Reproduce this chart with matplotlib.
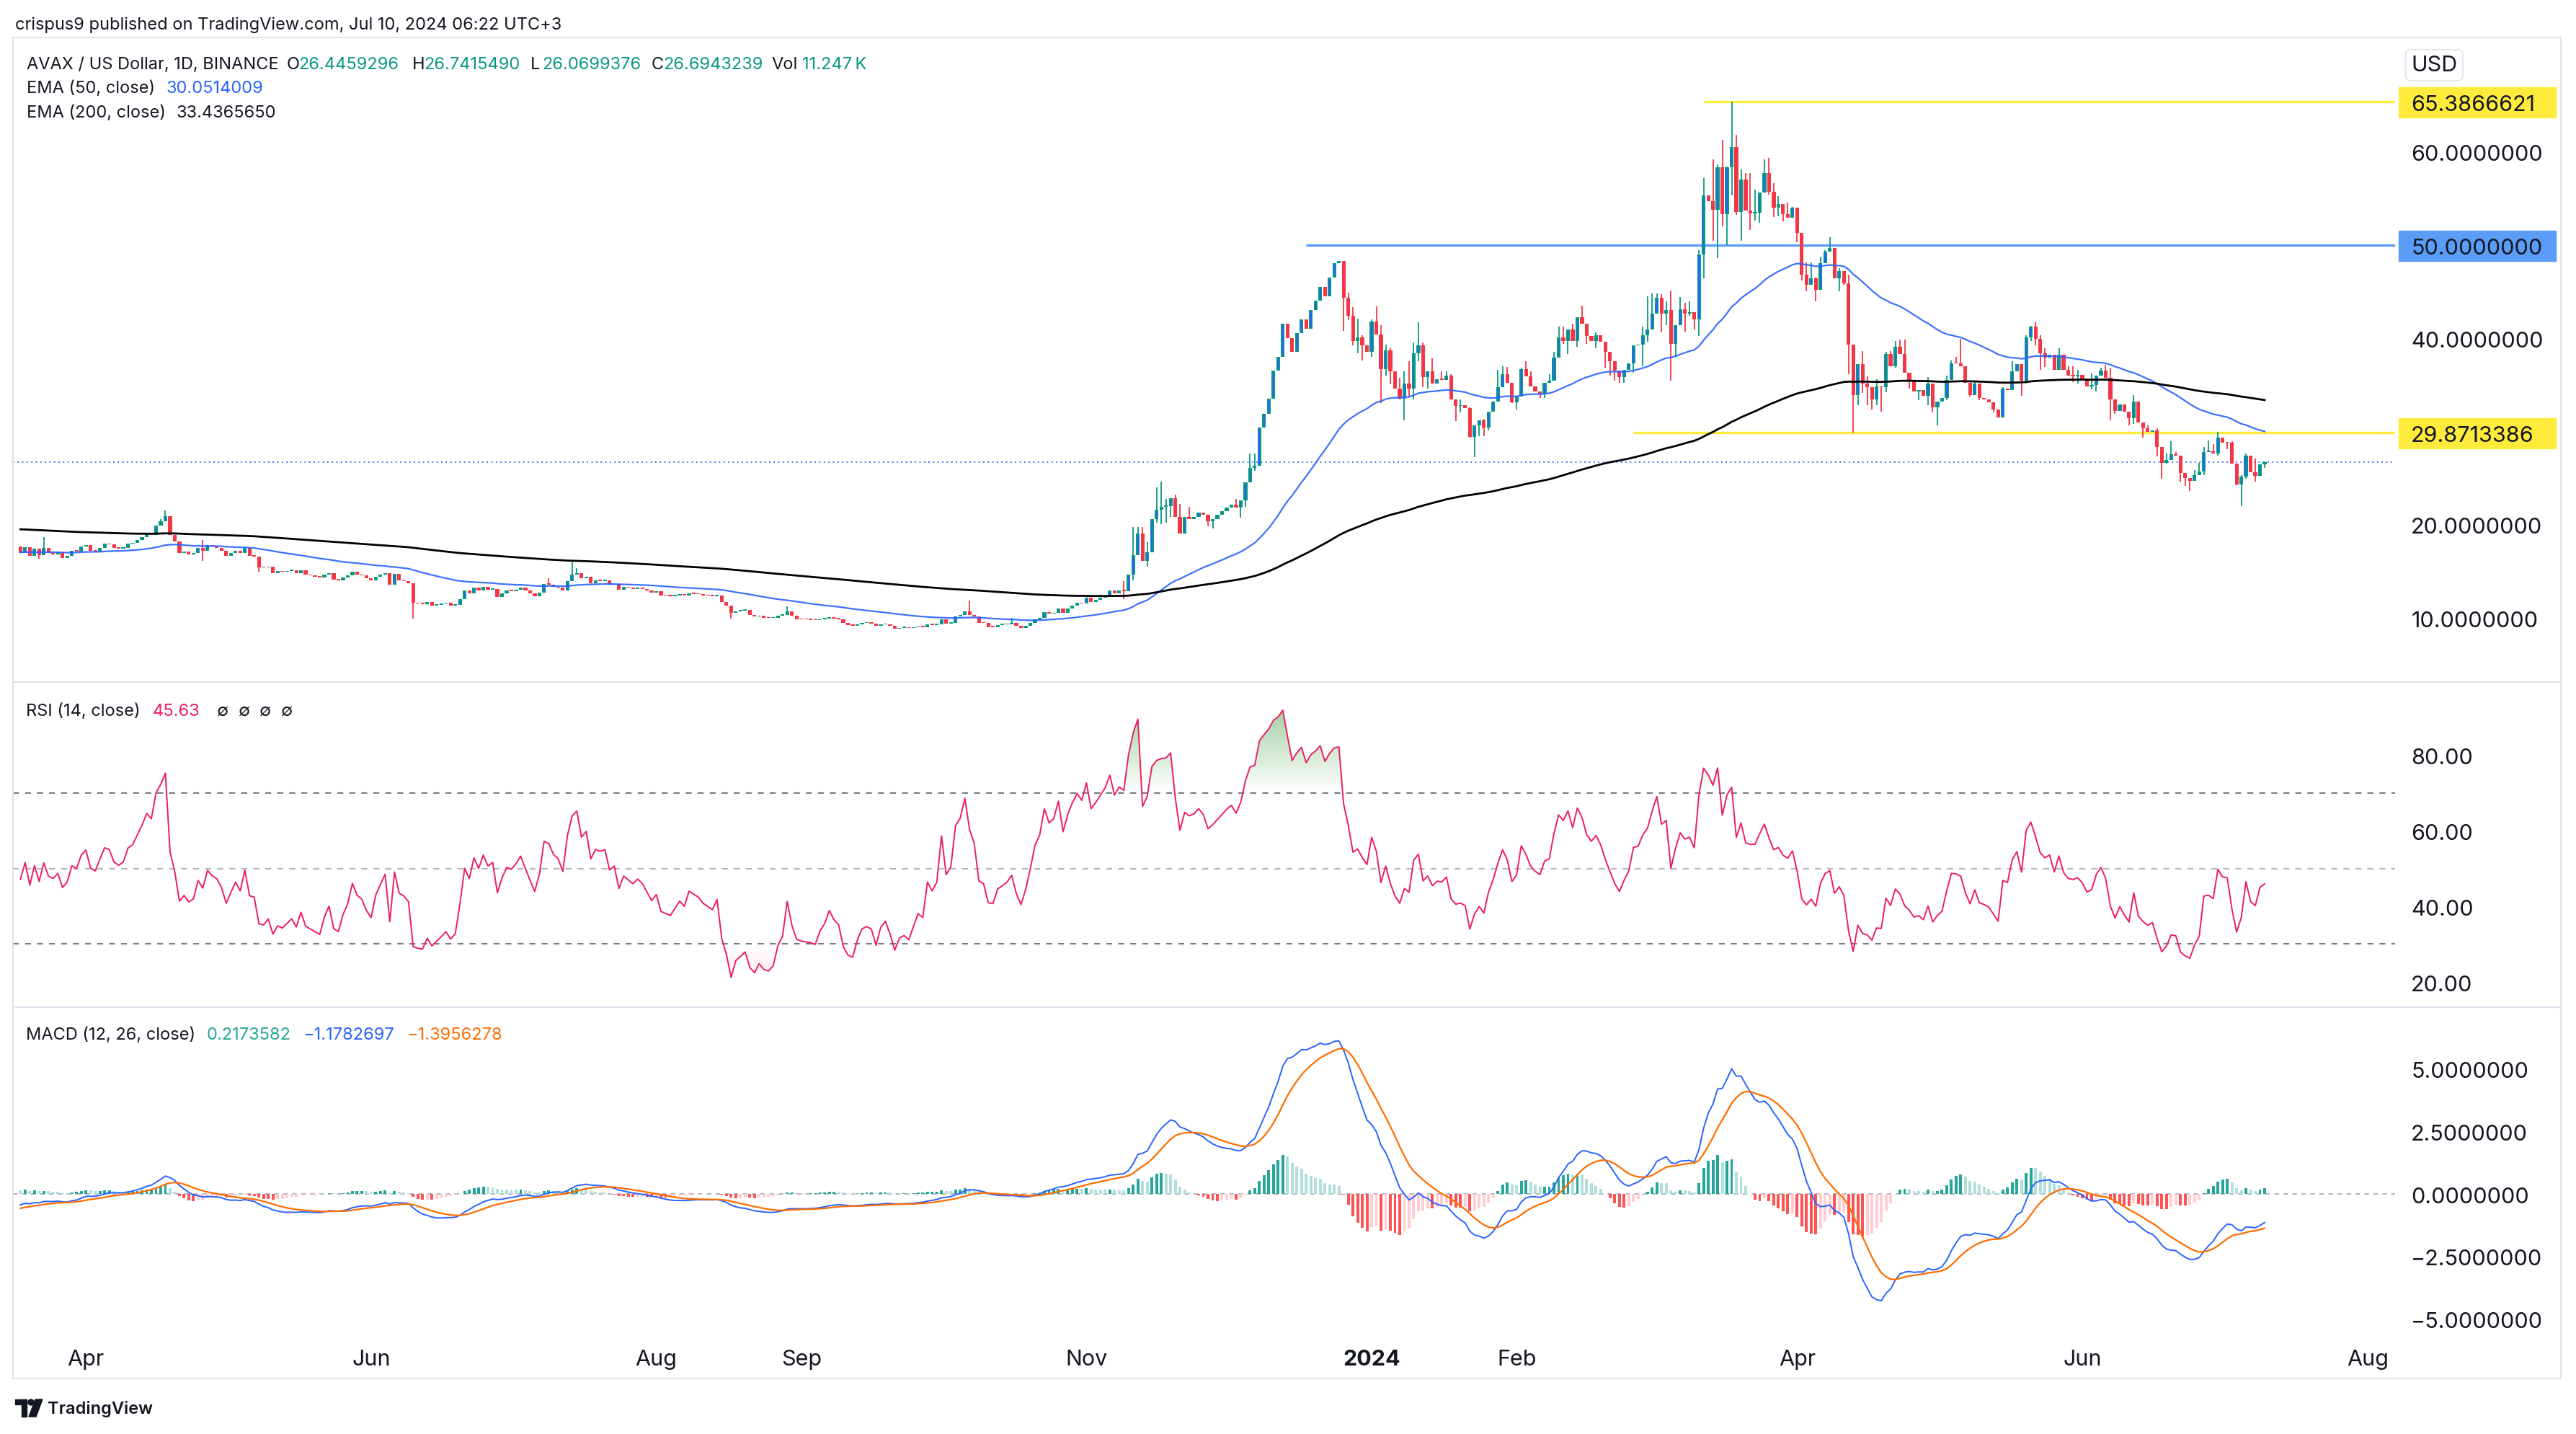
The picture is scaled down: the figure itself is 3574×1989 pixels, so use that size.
#!/usr/bin/env python3
"""AVAX / US Dollar daily candles with EMA 50/200, RSI and MACD panes."""

import numpy as np
import pandas as pd
import matplotlib
matplotlib.use("Agg")
import matplotlib.pyplot as plt
import matplotlib.dates as mdates
import matplotlib.transforms as mtrans
from matplotlib.path import Path
from matplotlib.patches import Rectangle, Ellipse, Polygon
from matplotlib.colors import to_rgb

W, H = 3574, 1990

# daily closes, 18 Mar 2023 -> 10 Jul 2024
close_mar_jun23 = [
    16.9, 17.55, 16.6, 17.4, 16.7, 17.5, 16.9, 16.8, 17.0, 16.4,
    16.6, 17.2, 17.1, 17.6, 17.8, 17.2, 17.1, 17.5, 17.9, 17.85,
    17.5, 17.4, 17.5, 17.9, 18.0, 18.3, 18.6, 19.0, 18.9, 19.9,
    20.3, 20.9, 18.9, 18.2, 16.9, 17.1, 16.8, 16.9, 17.5, 17.2,
    17.8, 17.6, 17.5, 17.2, 16.6, 16.9, 17.2, 16.9, 17.5, 16.6,
    16.55, 15.4, 15.35, 15.5, 14.8, 15.0, 14.9, 15.0, 15.1, 14.8,
    15.1, 14.6, 14.5, 14.4, 14.3, 14.6, 14.8, 14.1, 14.0, 14.3,
    14.5, 14.9, 14.6, 14.5, 14.2, 14.0, 14.4]
close_jun_aug23 = [
    14.6, 14.8, 13.5, 14.7, 14.0, 13.9, 13.7, 11.6, 11.5, 11.45,
    11.7, 11.3, 11.4, 11.5, 11.6, 11.3, 11.4, 12.0, 12.9, 12.6,
    13.2, 12.9, 13.3, 13.0, 13.1, 12.2, 12.6, 12.9, 12.85, 13.0,
    13.2, 12.9, 12.6, 12.3, 12.7, 13.6, 13.55, 13.3, 13.2, 12.9,
    13.9, 14.6, 14.8, 14.2, 14.4, 13.7, 14.0, 13.95, 14.0, 13.5,
    13.6, 13.0, 13.3, 13.2, 13.1, 13.2, 13.1, 12.9, 12.7, 12.8,
    12.4, 12.35, 12.3, 12.4, 12.5, 12.4, 12.6, 12.55, 12.5, 12.4,
    12.35]
close_aug_oct23 = [
    12.3, 12.4, 11.7, 11.3, 10.5, 10.7, 10.75, 10.8, 10.3, 10.1,
    10.2, 10.0, 9.95, 10.0, 10.2, 10.3, 10.7, 10.2, 9.85, 9.8,
    9.78, 9.76, 9.72, 9.85, 9.92, 10.05, 9.9, 9.82, 9.4, 9.2,
    9.15, 9.3, 9.4, 9.42, 9.38, 9.1, 9.25, 9.3, 9.1, 8.8,
    8.9, 8.92, 8.85, 8.95, 9.05, 9.0, 9.3, 9.2, 9.28, 9.8,
    9.35, 9.45, 10.1, 10.25, 10.7, 10.3, 10.1, 9.45, 9.4, 9.0,
    8.98, 9.2, 9.25, 9.3, 9.4, 9.1, 8.9, 9.1, 9.4, 9.8]
close_oct_dec23 = [
    10.0, 10.6, 10.4, 10.5, 10.95, 10.5, 10.95, 11.3, 11.6, 11.5,
    12.1, 11.7, 11.9, 12.15, 12.4, 12.9, 12.6, 12.9, 12.85, 14.6,
    16.7, 19.0, 16.1, 17.0, 20.6, 21.6, 21.9, 22.0, 22.8, 20.8,
    19.0, 20.8, 20.6, 20.8, 21.3, 21.0, 20.3, 20.6, 21.0, 21.4,
    21.8, 22.1, 21.8, 22.6, 24.5, 26.1, 26.3, 30.4, 31.9, 33.5]
close_dec23 = [36.5, 38.0, 41.5, 40.0, 38.5, 40.5, 42.0, 41.0, 43.0, 44.0,
               45.5, 44.5, 46.5, 48.0, 48.3]
close_dec_mar24 = [
    44.3, 42.4, 39.7, 40.1, 39.2, 38.5, 41.8, 40.4, 36.7, 38.7,
    36.4, 34.6, 33.5, 35.1, 34.6, 38.4, 39.2, 35.8, 36.4, 35.1,
    35.6, 35.5, 36.0, 33.4, 32.7, 32.8, 32.5, 29.4, 30.6, 31.2,
    30.4, 32.1, 33.2, 34.7, 36.1, 35.2, 33.1, 33.7, 36.7, 35.9,
    34.8, 34.3, 34.0, 35.2, 35.4, 37.9, 40.1, 39.7, 40.9, 39.7,
    42.2, 41.5, 40.2, 39.7, 40.3, 39.6, 38.5, 37.5, 36.5, 35.8,
    36.6, 37.3, 39.2, 39.3, 40.3, 40.9, 42.6, 44.3, 42.6, 43.0,
    39.4, 41.4, 43.1, 42.6]
close_mar_may24 = [
    42.8, 42.0, 49.0, 55.3, 54.7, 53.8, 58.3, 53.3, 58.3, 60.5,
    53.5, 57.0, 53.7, 53.4, 53.45, 55.6, 57.7, 55.7, 54.0, 54.4,
    53.3, 52.9, 54.0, 51.3, 46.8, 45.7, 46.4, 45.2, 48.0, 49.3,
    49.7, 46.4, 47.2, 45.9, 39.3, 33.9, 37.2, 35.1, 34.7, 33.4,
    34.8, 34.7, 38.3, 37.0, 39.1, 38.3, 36.3, 35.5, 34.3, 34.45,
    33.8, 35.1, 32.6, 33.2, 33.6, 35.5, 37.3, 37.25, 37.0, 35.2,
    33.9, 35.1, 33.6, 33.4, 33.1, 32.3, 31.5, 34.6, 34.4, 36.4,
    37.2]
close_may_jul24 = [
    35.4, 40.05, 41.2, 39.9, 38.4, 37.9, 38.2, 36.6, 38.2, 36.6,
    36.0, 35.9, 36.05, 35.6, 34.8, 34.95, 36.0, 36.5, 35.7, 33.4,
    32.2, 32.9, 32.1, 31.4, 33.2, 30.9, 30.3, 29.9, 30.05, 28.3,
    26.6, 26.9, 27.5, 27.4, 25.5, 25.0, 24.7, 25.3, 25.7, 27.8,
    27.85, 27.6, 29.3, 28.8, 28.75, 26.5, 24.3, 25.1, 27.4, 25.6,
    25.2, 26.4459296, 26.6943239]

first_open = 17.6
last_open = 26.4459296

# wicks that stick out (candle index -> price)
wick_high = {
    5: 18.6, 30: 20.6, 31: 21.5, 39: 18.3,
    113: 14.2, 118: 15.9, 119: 15.3,
    164: 11.2, 203: 11.8, 212: 9.95,
    236: 13.9, 238: 19.7, 239: 19.7, 240: 19.7, 241: 18.1, 243: 24.0, 244: 24.6,
    245: 22.7, 247: 23.2, 248: 22.2, 250: 21.9, 260: 22.7, 263: 27.6, 264: 27.6,
    283: 48.3, 284: 44.9, 285: 43.3, 286: 42.1, 287: 40.3, 289: 42.0, 290: 43.4,
    291: 41.4, 292: 39.3, 293: 39.0, 294: 35.7, 295: 35.7, 296: 36.4, 297: 37.5,
    298: 39.5, 299: 41.7, 300: 39.5, 302: 37.8, 304: 36.4, 305: 36.4, 306: 36.1,
    308: 33.4, 310: 32.6, 313: 31.3, 316: 36.6, 317: 37.0, 318: 36.9, 321: 36.8,
    322: 37.5, 323: 36.4, 327: 36.1, 328: 38.5, 329: 41.2, 330: 41.2, 332: 41.5,
    334: 43.5, 337: 40.6, 347: 41.2, 348: 44.5, 349: 44.8, 350: 44.8, 351: 44.7,
    352: 43.9, 353: 45.1, 355: 44.4, 356: 43.8,
    357: 43.9, 359: 49.4, 360: 57.2, 362: 59.2, 363: 58.6, 364: 61.3, 365: 58.4,
    366: 65.3866621, 367: 61.8, 368: 58.1, 369: 57.7, 370: 57.7, 371: 55.9,
    373: 59.2, 374: 59.3, 375: 56.6, 376: 55.2, 378: 54.5, 379: 54.1, 382: 48.1,
    383: 48.1, 384: 46.5, 385: 48.7, 386: 49.4, 387: 50.8, 389: 47.5, 390: 46.8,
    391: 46.8, 394: 38.6, 395: 35.9, 397: 35.6, 399: 38.5, 400: 38.6, 401: 39.7,
    402: 39.8, 403: 39.8, 408: 35.8, 412: 36.0, 413: 37.6, 414: 38.0, 415: 39.9,
    418: 35.4, 424: 34.7, 426: 37.5,
    429: 40.3, 430: 41.3, 431: 41.7, 432: 40.3, 433: 38.9, 436: 38.9, 438: 37.0,
    439: 37.0, 440: 36.6, 443: 36.2, 445: 36.8, 446: 37.1, 447: 36.8, 452: 33.9,
    455: 30.6, 457: 30.3, 459: 27.6, 460: 28.9, 461: 27.8, 465: 25.8, 466: 26.6,
    467: 28.3, 468: 29.0, 469: 28.6, 470: 29.95, 473: 28.9, 475: 25.3, 476: 27.6,
    477: 27.4, 478: 27.1, 480: 26.741549,
}
wick_low = {
    4: 16.3, 39: 16.1, 51: 14.9,
    84: 9.9, 152: 9.9,
    236: 12.0, 238: 14.0, 240: 16.1, 241: 15.5, 243: 20.2, 244: 20.0, 245: 20.2,
    246: 20.8, 254: 19.8, 255: 19.6, 261: 20.7, 262: 21.9, 264: 25.75,
    283: 40.8, 284: 41.9, 285: 39.2, 286: 38.4, 287: 37.6, 289: 38.0, 291: 33.0,
    292: 36.0, 293: 35.0, 295: 33.4, 296: 31.2, 297: 33.7, 298: 33.4, 299: 37.5,
    300: 34.7, 301: 34.6, 306: 33.4, 307: 31.1, 308: 32.0, 310: 29.3, 311: 27.2,
    312: 29.5, 313: 29.5, 314: 30.1, 319: 33.0, 320: 32.3, 325: 33.6, 326: 33.6,
    330: 39.4, 331: 38.3, 333: 39.1, 335: 39.4, 337: 38.9, 339: 36.8, 340: 36.0,
    341: 35.4, 342: 35.2, 343: 35.2, 345: 36.3, 347: 37.0, 348: 39.6, 351: 40.6,
    352: 41.4, 353: 35.4, 354: 38.0, 356: 40.7,
    357: 42.4, 358: 40.9, 359: 40.2, 360: 46.4, 362: 50.4, 363: 48.6, 364: 52.0,
    365: 50.0, 366: 55.3, 367: 53.2, 368: 50.4, 370: 51.6, 371: 52.6, 372: 52.4,
    374: 55.4, 375: 53.0, 376: 53.1, 377: 52.5, 380: 50.3, 381: 46.2, 382: 45.0,
    384: 43.9, 389: 45.0, 390: 45.7, 391: 36.1, 392: 29.8713386, 393: 32.8,
    394: 34.1, 395: 32.8, 396: 32.3, 397: 32.8, 398: 32.1, 399: 34.2, 401: 36.8,
    404: 34.6, 406: 33.3, 408: 32.8, 409: 32.0, 410: 30.6, 412: 33.3, 417: 33.7,
    419: 33.3, 422: 32.0, 423: 31.5,
    428: 33.8, 429: 35.1, 430: 39.7, 431: 39.2, 432: 36.6, 433: 36.9, 439: 35.3,
    440: 35.1, 443: 34.5, 444: 34.3, 447: 31.2, 448: 31.9, 451: 30.6, 452: 30.8,
    454: 29.3, 457: 27.3, 458: 24.9, 459: 26.5, 462: 24.5, 463: 24.1, 464: 23.6,
    467: 25.3, 470: 27.4, 472: 28.1, 474: 24.2, 475: 22.0, 476: 24.9, 478: 24.6,
    480: 26.0699376,
}

# indicator state carried in from before the first candle
ema50_start, ema200_start = 17.0, 19.5
ema12_start, ema26_start, signal_start = 17.25, 17.7, -0.62
rsi_up_start, rsi_dn_start = 0.28, 0.26

# drawn levels
level_price = [65.3866621, 50.0, 29.8713386]
level_from = ["2024-03-12", "2023-12-18", "2024-02-26"]
level_color = ["#ffeb3b", "#5b9cf6", "#ffeb3b"]

price_ticks = [60, 40, 20, 10]
rsi_ticks = [80, 60, 40, 20]
macd_ticks = [5.0, 2.5, 0.0, -2.5, -5.0]
month_ticks = ["2023-04-01", "2023-06-01", "2023-08-01", "2023-09-01", "2023-11-01",
               "2024-01-01", "2024-02-01", "2024-04-01", "2024-06-01", "2024-08-01"]
month_labels = ["Apr", "Jun", "Aug", "Sep", "Nov", "2024", "Feb", "Apr", "Jun", "Aug"]


def ema(vals, n, start):
    a = 2.0 / (n + 1)
    out, e = [], start
    for v in vals:
        e = e + a * (v - e)
        out.append(e)
    return np.array(out)


def rsi_wilder(vals, prev, n, up, dn):
    out = []
    for v in vals:
        ch = v - prev
        up = (up * (n - 1) + max(ch, 0)) / n
        dn = (dn * (n - 1) + max(-ch, 0)) / n
        out.append(100 - 100 / (1 + up / dn))
        prev = v
    return np.array(out)


def grad_fill(ax, x, y, base, peak, color, amax, above):
    yy = np.maximum(y, base) if above else np.minimum(y, base)
    verts = np.column_stack([np.r_[x, x[::-1]], np.r_[yy, np.full(len(x), base)]])
    rgba = np.zeros((256, 1, 4))
    rgba[..., :3] = to_rgb(color)
    ramp = np.linspace(0, 1, 256)
    if above:
        rgba[:, 0, 3] = amax * ramp
        ext = [x[0], x[-1], base, peak]
    else:
        rgba[:, 0, 3] = amax * ramp[::-1]
        ext = [x[0], x[-1], peak, base]
    im = ax.imshow(rgba, extent=ext, origin="lower", aspect="auto", zorder=1,
                   interpolation="bilinear")
    im.set_clip_path(Path(verts), transform=ax.transData)


closes = np.array(close_mar_jun23 + close_jun_aug23 + close_aug_oct23 + close_oct_dec23
                  + close_dec23 + close_dec_mar24 + close_mar_may24 + close_may_jul24)
dates = pd.date_range(end="2024-07-10", periods=len(closes), freq="D")
x = mdates.date2num(dates)
opens = np.r_[first_open, closes[:-1]]
opens[-1] = last_open
highs = np.maximum(opens, closes)
lows = np.minimum(opens, closes)
for i, v in wick_high.items():
    highs[i] = max(highs[i], v)
for i, v in wick_low.items():
    lows[i] = min(lows[i], v)

ema50 = ema(closes, 50, ema50_start)
ema200 = ema(closes, 200, ema200_start)
rsi = rsi_wilder(closes, first_open, 14, rsi_up_start, rsi_dn_start)
macd = ema(closes, 12, ema12_start) - ema(closes, 26, ema26_start)
signal = ema(macd, 9, signal_start)
hist = macd - signal

plt.rcParams["font.family"] = ["Inter", "DejaVu Sans"]
INK = "#131722"
GREEN, RED = "#089981", "#f23645"
LEG_FS, AX_FS = 17, 22
DROP = 4  # text sits this many pixels lower than its bbox centre

fig = plt.figure(figsize=(W / 100, H / 100), dpi=100)
fig.patch.set_facecolor("white")

left, width = 18 / W, 3305 / W
ax_p = fig.add_axes([left, 1 - 946 / H, width, 891 / H])
ax_r = fig.add_axes([left, 1 - 1397 / H, width, 447 / H])
ax_m = fig.add_axes([left, 1 - 1851 / H, width, 451 / H])

jan1 = mdates.date2num(pd.Timestamp("2024-01-01"))
x0, x1 = jan1 - 290.6, jan1 + 218.9

# ---- price pane
up = closes >= opens
cols = np.where(up, GREEN, RED)
body_lo = np.minimum(opens, closes)
body_h = np.maximum(np.abs(closes - opens), 0.12)
ax_p.vlines(x, lows, highs, colors=cols, lw=1.3, zorder=3)
ax_p.bar(x, body_h, bottom=body_lo, width=0.8, color=cols, linewidth=0, zorder=4)
m = up & (body_h > 0.45)
ax_p.bar(x[m], body_h[m] - 0.3, bottom=body_lo[m] + 0.15, width=0.27,
         color="#2962ff", linewidth=0, zorder=5)

for p, d, c in zip(level_price, level_from, level_color):
    ax_p.hlines(p, mdates.date2num(pd.Timestamp(d)), x1, color=c, lw=2.4, zorder=2)
ax_p.axhline(closes[-1], color="#2962ff", lw=1.3, ls=(0, (1, 2.5)), zorder=2)
ax_p.plot(x, ema50, color="#2962ff", lw=1.6, alpha=0.9, zorder=6)
ax_p.plot(x, ema200, color="black", lw=2.0, zorder=6)
ax_p.set_ylim(3.16, 72.1)


def side_tf(ax):
    t = mtrans.blended_transform_factory(ax.transAxes, ax.transData)
    return t, mtrans.offset_copy(t, fig=fig, y=-DROP, units="dots")


tp, tp_txt = side_tf(ax_p)
for t in price_ticks:
    ax_p.text(1.0067, t, f"{t:.7f}", transform=tp_txt, ha="left", va="center",
              fontsize=AX_FS, color=INK, clip_on=False)
for p, c in zip(level_price, level_color):
    ax_p.add_patch(Rectangle((1.0015, p - 1.75), 0.066, 3.3, transform=tp, color=c,
                             clip_on=False, zorder=10))
    ax_p.text(1.0067, p, f"{p:.7f}", transform=tp_txt, ha="left", va="center",
              fontsize=AX_FS, color=INK, clip_on=False, zorder=11)
ax_p.text(1.0067, 69.6, "USD", transform=tp_txt, ha="left", va="center", fontsize=AX_FS,
          color=INK, clip_on=False,
          bbox=dict(boxstyle="round,pad=0.25", fc="white", ec="#e0e3eb", lw=1.2))

# ---- RSI pane
for lvl, c in [(70, "#787b86"), (50, "#b2b5be"), (30, "#787b86")]:
    ax_r.axhline(lvl, color=c, lw=1.5, ls=(0, (4, 4)), zorder=2)
grad_fill(ax_r, x, rsi, 70, 95, "#43a047", 0.55, True)
grad_fill(ax_r, x, rsi, 30, 15, "#f23645", 0.18, False)
ax_r.plot(x, rsi, color="#ec1e5c", lw=1.4, zorder=3)
ax_r.set_ylim(13.48, 98.75)
tr, tr_txt = side_tf(ax_r)
for t in rsi_ticks:
    ax_r.text(1.0067, t, f"{t:.2f}", transform=tr_txt, ha="left", va="center",
              fontsize=AX_FS, color=INK, clip_on=False)

# ---- MACD pane
prev = np.r_[hist[0], hist[:-1]]
hcols = np.where(hist >= 0, np.where(hist > prev, "#26a69a", "#b2dfdb"),
                 np.where(hist < prev, "#ff5252", "#ffcdd2"))
ax_m.bar(x, hist, width=0.6, color=hcols, linewidth=0, zorder=2)
ax_m.axhline(0, color="#b2b5be", lw=1.5, ls=(0, (3, 3)), zorder=1)
ax_m.plot(x, macd, color="#2962ff", lw=1.4, zorder=3)
ax_m.plot(x, signal, color="#ff6d00", lw=1.6, zorder=3)
ax_m.set_ylim(-5.61, 7.41)
tm, tm_txt = side_tf(ax_m)
for t in macd_ticks:
    ax_m.text(1.0067, t, f"{t:.7f}".replace("-", "\u2212"), transform=tm_txt, ha="left",
              va="center", fontsize=AX_FS, color=INK, clip_on=False)
tx = mtrans.offset_copy(mtrans.blended_transform_factory(ax_m.transData, ax_m.transAxes),
                        fig=fig, y=-DROP, units="dots")
for d, lab in zip(month_ticks, month_labels):
    ax_m.text(mdates.date2num(pd.Timestamp(d)), -0.0687, lab, transform=tx, ha="center",
              va="center", fontsize=AX_FS, color=INK, clip_on=False,
              fontweight="bold" if lab == "2024" else "normal")

for ax in (ax_p, ax_r, ax_m):
    ax.set_xlim(x0, x1)
    ax.axis("off")


def ftext(px, py, s, **kw):
    kw.setdefault("fontsize", LEG_FS)
    kw.setdefault("color", INK)
    fig.text(px / W, 1 - (py + DROP) / H, s, ha="left", va="center", **kw)


def fline(xs, ys):
    fig.add_artist(plt.Line2D([v / W for v in xs], [1 - v / H for v in ys],
                              transform=fig.transFigure, color="#e0e3eb", lw=1.5))


# frame and pane separators
fline([18, 3553], [53, 53])
fline([18, 3553], [947, 947])
fline([18, 3553], [1398, 1398])
fline([18, 3553], [1913, 1913])
fline([18, 18], [53, 1913])
fline([3553, 3553], [53, 1913])

ftext(21, 31, "crispus9 published on TradingView.com, Jul 10, 2024 06:22 UTC+3")
ftext(37, 86, "AVAX / US Dollar, 1D, BINANCE")
for px, lab, val in [(398, "O", "26.4459296"), (572, "H", "26.7415490"),
                     (736, "L", "26.0699376"), (904, "C", "26.6943239")]:
    ftext(px, 86, lab)
    ftext(px + 16, 86, val, color=GREEN)
ftext(1070, 86, "Vol")
ftext(1113, 86, "11.247\u2009K", color=GREEN)
ftext(37, 119, "EMA (50, close)")
ftext(230, 119, "30.0514009", color="#2962ff")
ftext(37, 153, "EMA (200, close)")
ftext(245, 153, "33.4365650")

ftext(36, 983, "RSI (14, close)")
ftext(212, 983, "45.63", color="#ec1e5c")
for px in (301, 331, 360, 390):
    ftext(px, 983, "\u2205")

ftext(36, 1432, "MACD (12, 26, close)")
ftext(287, 1432, "0.2173582", color="#26a69a")
ftext(421, 1432, "\u22121.1782697", color="#2962ff")
ftext(565, 1432, "\u22121.3956278", color="#ff6d00")


# TradingView mark and name
def fp(px, py):
    return (px / W, 1 - py / H)


fig.add_artist(Rectangle(fp(21, 1949), 16 / W, 7 / H, transform=fig.transFigure, color=INK))
fig.add_artist(Rectangle(fp(30, 1966), 7 / W, 24 / H, transform=fig.transFigure, color=INK))
fig.add_artist(Ellipse(fp(43, 1946), 8 / W, 8 / H, transform=fig.transFigure, color=INK))
fig.add_artist(Polygon([fp(49, 1942), fp(59, 1942), fp(50, 1966), fp(40, 1966)],
                       transform=fig.transFigure, color=INK))
ftext(66, 1951, "TradingView", fontweight="semibold")

fig.savefig("out.png", dpi=100, facecolor="white")
